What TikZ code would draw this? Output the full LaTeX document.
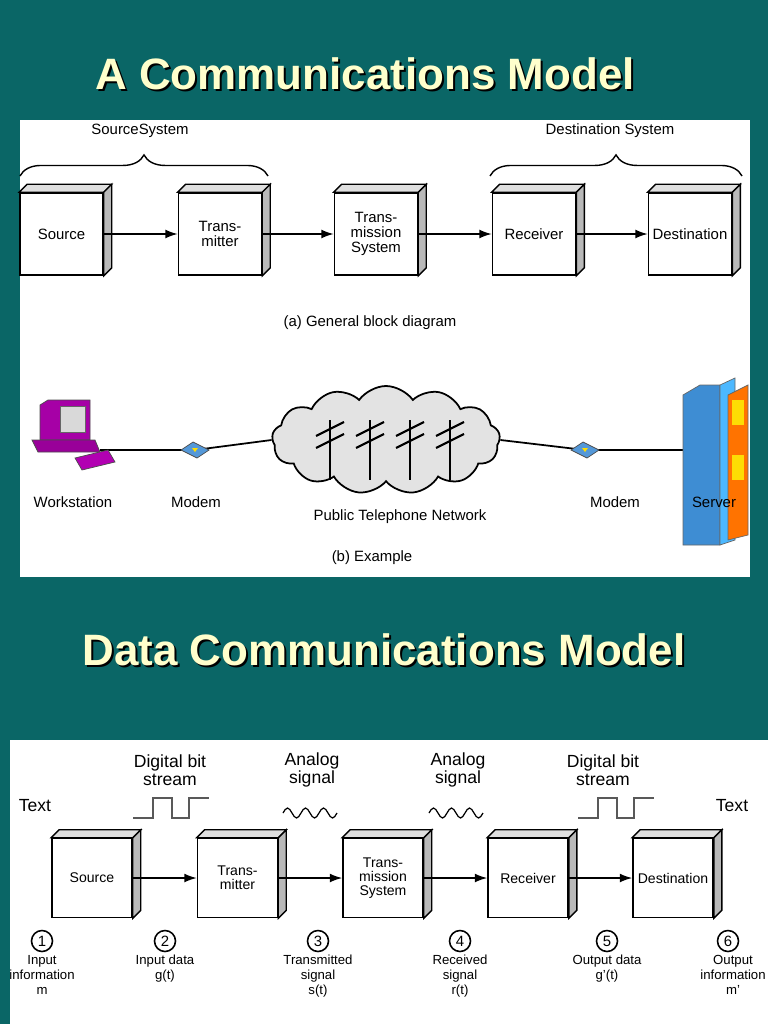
\documentclass[tikz,border=0pt]{standalone}
\usepackage{fontspec}
\setmainfont{Liberation Sans}
\usetikzlibrary{calc,arrows.meta,shapes.symbols,decorations.pathreplacing}
\definecolor{bg}{HTML}{0A6666}
\definecolor{ttl}{HTML}{FFFFCC}
\newcommand{\fs}[1]{\fontsize{#1}{#1*1.15}\selectfont}
\newcommand{\depthbox}[1]{%
  \fill[gray!25,draw=black,line width=0.8pt] (#1.north west) -- ++(8,-8) -- ($(#1.north east)+(8,-8)$) -- (#1.north east) -- cycle;
  \fill[gray!55,draw=black,line width=0.8pt] (#1.north east) -- ++(8,-8) -- ($(#1.south east)+(8,-8)$) -- (#1.south east) -- cycle;}
\begin{document}
\begin{tikzpicture}[x=0.02cm,y=-0.02cm,
  blk/.style={draw,line width=0.9pt,fill=white,minimum width=83*0.02cm,minimum height=82*0.02cm,align=center,font=\fs{8.5pt},inner sep=1pt},
  blk2/.style={blk,minimum width=80*0.02cm,minimum height=79*0.02cm,font=\fs{8pt}},
  arr/.style={-{Latex[length=7pt,width=5pt]},line width=0.8pt},
  lbl/.style={font=\fs{8.5pt},align=center},
  big/.style={font=\fs{10pt},align=center},
  small/.style={font=\fs{7.5pt},align=center,inner sep=0pt},
  title/.style={font=\bfseries\fs{25pt},text=ttl},
  shadow/.style={font=\bfseries\fs{25pt},text=black},
  num/.style={circle,draw,line width=0.9pt,minimum size=21*0.02cm,inner sep=0pt,font=\fs{8.5pt}},
  wire/.style={line width=1pt}]
\fill[bg] (0,0) rectangle (768,1024);
\useasboundingbox (0,0) rectangle (768,1024);
% Titles
\node[shadow] (t1s) at (367,76) {A Communications Model};
\node[title] (t1) at (365,74) {A Communications Model};
\node[shadow] (t2s) at (386,652) {Data Communications Model};
\node[title] (t2) at (384,650) {Data Communications Model};
% Top panel
\fill[white] (20,120) rectangle (750,577);
\node[blk] (s1) at (61.5,234) {Source};
\node[blk] (x1) at (220,234) {Trans-\\mitter};
\node[blk] (m1) at (376,234) {Trans-\\mission\\System};
\node[blk] (r1) at (534,234) {Receiver};
\node[blk] (d1) at (690,234) {Destination};
\foreach \n in {s1,x1,m1,r1,d1}{\depthbox{\n}}
\draw[arr] (s1.east) -- (x1.west);
\draw[arr] (x1.east) -- (m1.west);
\draw[arr] (m1.east) -- (r1.west);
\draw[arr] (r1.east) -- (d1.west);
\coordinate (b1a) at (20,176); \coordinate (b1b) at (268,176);
\coordinate (b2a) at (490,176); \coordinate (b2b) at (742,176);
\draw[line width=0.8pt,decorate,decoration={brace,amplitude=12pt}] (b1a) -- (b1b);
\draw[line width=0.8pt,decorate,decoration={brace,amplitude=12pt}] (b2a) -- (b2b);
\node[lbl] (ss) at (140,131) {SourceSystem};
\node[lbl] (ds) at (610,131) {Destination System};
\node[lbl] (ca) at (370,323) {(a) General block diagram};
% Example
\node[cloud,cloud puffs=13,cloud puff arc=110,aspect=2.1,draw,line width=1pt,fill=gray!22,minimum width=228*0.02cm,minimum height=108*0.02cm] (cl) at (386,440) {};
\coordinate (ws) at (100,450);
\coordinate (md1) at (195,450);
\coordinate (md2) at (585,450);
\coordinate (sv) at (683,450);
\draw[wire] (ws) -- (md1) -- (cl.west);
\draw[wire] (cl.east) -- (md2) -- (sv);
% poles
\foreach \px in {330,370,410,450}{
  \draw[line width=1.2pt] (\px,420) -- (\px,480);
  \draw[line width=1.2pt] (\px-14,436) -- (\px+14,422);
  \draw[line width=1.2pt] (\px-14,448) -- (\px+14,434);
}
% workstation
\fill[violet!70!magenta,draw=black!70] (40,405) -- (48,400) -- (90,400) -- (90,440) -- (40,440) -- cycle;
\fill[gray!30,draw=black!60] (60,406) rectangle (85,432);
\fill[violet!80!magenta,draw=black!70] (32,440) -- (95,440) -- (100,452) -- (38,452) -- cycle;
\fill[violet!60!magenta,draw=black!70] (75,458) -- (108,450) -- (115,462) -- (82,470) -- cycle;
% modems
\foreach \c in {md1,md2}{
  \fill[cyan!60!blue!70,draw=black!70] ($(\c)+(-14,0)$) -- ($(\c)+(-2,-8)$) -- ($(\c)+(14,0)$) -- ($(\c)+(2,8)$) -- cycle;
  \fill[yellow!80!orange] ($(\c)+(-3,-2)$) -- ($(\c)+(3,-2)$) -- ($(\c)+(0,2)$) -- cycle;
}
% server
\fill[cyan!60!blue!80,draw=black!60] (683,395) -- (700,385) -- (720,385) -- (720,545) -- (683,545) -- cycle;
\fill[blue!40!cyan!70,draw=black!60] (720,385) -- (735,378) -- (735,540) -- (720,545) -- cycle;
\fill[orange!90!red,draw=black!60] (728,395) -- (748,385) -- (748,535) -- (728,540) -- cycle;
\fill[yellow!80!orange] (732,400) rectangle (744,425);
\fill[yellow!80!orange] (732,455) rectangle (744,480);
\node[lbl] (lw) at (73,502) {Workstation};
\node[lbl] (lm1) at (196,502) {Modem};
\node[lbl] (lp) at (400,517) {Public Telephone Network};
\node[lbl] (lm2) at (615,502) {Modem};
\node[lbl] (ls) at (714,502) {Server};
\node[lbl] (cb) at (372,558) {(b) Example};
% Bottom panel
\fill[white] (10,740) rectangle (768,1024);
\node[blk2] (s2) at (92,878) {Source};
\node[blk2] (x2) at (237.5,878) {Trans-\\mitter};
\node[blk2] (m2) at (383,878) {Trans-\\mission\\System};
\node[blk2] (r2) at (528,878) {Receiver};
\node[blk2] (d2) at (673,878) {Destination};
\foreach \n in {s2,x2,m2,r2,d2}{\depthbox{\n}}
\draw[arr] (s2.east) -- (x2.west);
\draw[arr] (x2.east) -- (m2.west);
\draw[arr] (m2.east) -- (r2.west);
\draw[arr] (r2.east) -- (d2.west);
\node[big] (db1) at (170,770) {Digital bit\\stream};
\node[big] (as1) at (312,770) {Analog\\signal};
\node[big] (as2) at (458,770) {Analog\\signal};
\node[big] (db2) at (603,770) {Digital bit\\stream};
\node[big] (tx1) at (35,806) {Text};
\node[big] (tx2) at (732,806) {Text};
\foreach \ox in {0,445}{
  \draw[gray!70!black,line width=0.8pt] (133+\ox,818) -- (153+\ox,818) -- (153+\ox,798) -- (172+\ox,798) -- (172+\ox,818) -- (189+\ox,818) -- (189+\ox,798) -- (209+\ox,798);
}
\foreach \ox in {283,429}{
  \draw[line width=0.7pt] (\ox,813) sin ++(4.5,-5) cos ++(4.5,5) sin ++(4.5,5) cos ++(4.5,-5)
    sin ++(4.5,-5) cos ++(4.5,5) sin ++(4.5,5) cos ++(4.5,-5)
    sin ++(4.5,-5) cos ++(4.5,5) sin ++(4.5,5) cos ++(4.5,-5);
}
\node[num] (n1) at (42,941) {1};
\node[num] (n2) at (165,941) {2};
\node[num] (n3) at (318,941) {3};
\node[num] (n4) at (460,941) {4};
\node[num] (n5) at (607,941) {5};
\node[num] (n6) at (728,941) {6};
\node[small,anchor=north] (l1) at (42,955) {Input\\[1pt]information\\[1pt]m};
\node[small,anchor=north] (l2) at (165,955) {Input data\\[1pt]g(t)};
\node[small,anchor=north] (l3) at (318,955) {Transmitted\\[1pt]signal\\[1pt]s(t)};
\node[small,anchor=north] (l4) at (460,955) {Received\\[1pt]signal\\[1pt]r(t)};
\node[small,anchor=north] (l5) at (607,955) {Output data\\[1pt]g'(t)};
\node[small,anchor=north] (l6) at (733,955) {Output\\[1pt]information\\[1pt]m'};
\end{tikzpicture}
\end{document}
